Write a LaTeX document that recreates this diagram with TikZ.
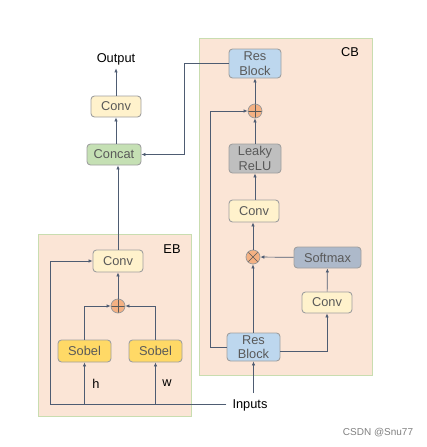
\documentclass[tikz,border=0pt]{standalone}
\usepackage{fontspec}
\setmainfont{Liberation Sans}
\usetikzlibrary{arrows.meta, positioning}
\definecolor{lineC}{HTML}{4E5C72}
\definecolor{bgC}{HTML}{FBE5D6}
\definecolor{bgEdge}{HTML}{C9DDB0}
\definecolor{convC}{HTML}{FFF2CC}
\definecolor{catC}{HTML}{C5E0B4}
\definecolor{resC}{HTML}{BDD7EE}
\definecolor{reluC}{HTML}{BFBFBF}
\definecolor{softC}{HTML}{ADB9CA}
\definecolor{sobC}{HTML}{FFD966}
\definecolor{opC}{HTML}{F4B183}
\definecolor{txtC}{HTML}{595959}

\begin{document}
\begin{tikzpicture}[x=1pt, y=-1pt,
      font=\fontsize{12.8}{14.5}\selectfont,
      blk/.style={draw=gray!75, line width=0.9pt, rounded corners=3.5pt,
         text=txtC, inner sep=0pt, align=center},
      convbox/.style={blk, fill=convC, minimum width=50pt, minimum height=21pt},
      resbox/.style={blk, fill=resC, minimum width=52pt, minimum height=29pt},
      opnode/.style={circle, draw=gray!80, line width=0.7pt, fill=opC,
         minimum size=14pt, inner sep=0pt},
      plusop/.style={opnode, path picture={
         \draw[gray!70!black, line width=0.6pt]
            (path picture bounding box.north) -- (path picture bounding box.south)
            (path picture bounding box.west) -- (path picture bounding box.east);}},
      timesop/.style={opnode, path picture={
         \draw[gray!70!black, line width=0.6pt]
            (path picture bounding box.north west) -- (path picture bounding box.south east)
            (path picture bounding box.south west) -- (path picture bounding box.north east);}},
      arr/.style={-{Latex[length=4pt, width=3.5pt]}, draw=lineC, line width=0.7pt},
      link/.style={draw=lineC, line width=0.7pt}]

      \useasboundingbox (0,0) rectangle (426,447);

      % Background blocks
      \draw[fill=bgC, draw=bgEdge, line width=0.8pt] (199,38) rectangle (372,375);
      \draw[fill=bgC, draw=bgEdge, line width=0.8pt] (38,234) rectangle (191,416);
      \node (cbLabel) at (350,52) {CB};
      \node (ebLabel) at (172,249) {EB};

      % Output branch
      \node (out) at (116,59) {Output};
      \node[convbox] (convOut) at (116,106.5) {Conv};
      \node[blk, fill=catC, minimum width=54pt, minimum height=21pt] (concat) at (114,154.5) {Concat};

      % CB block
      \node[resbox] (resTop) at (255,63.5) {Res\\Block};
      \node[plusop] (addTop) at (255,111) {};
      \node[blk, fill=reluC, minimum width=52pt, minimum height=29pt] (relu) at (255,158.5) {Leaky\\ReLU};
      \node[convbox, minimum height=22pt] (convMid) at (254,211) {Conv};
      \node[timesop] (mul) at (253,257) {};
      \node[blk, fill=softC, minimum width=67pt, minimum height=21pt] (soft) at (327.5,257.5) {Softmax};
      \node[convbox] (convSide) at (327,302.5) {Conv};
      \node[resbox, minimum width=53pt, minimum height=28pt] (resBot) at (253.5,347) {Res\\Block};

      % EB block
      \node[convbox, minimum height=22pt] (convEB) at (118,261) {Conv};
      \node[plusop] (addEB) at (118,306) {};
      \node[blk, fill=sobC, minimum width=53pt, minimum height=22pt] (sobH) at (84.5,351) {Sobel};
      \node[blk, fill=sobC, minimum width=53pt, minimum height=22pt] (sobW) at (155.5,351) {Sobel};
      \node (hLabel) at (96,384) {h};
      \node (wLabel) at (167,383) {w};

      % Inputs
      \node[inner sep=6pt] (inp) at (250,405) {Inputs};
      \coordinate (inLeft) at (50,404);

      % Connectors
      \draw[arr] (convOut) -- (out);
      \draw[arr] (concat.north -| convOut) -- (convOut.south);
      \draw[arr] (convEB.north) -- (convEB.north |- concat.south);
      \draw[arr] (resTop.west) -- ++(-44,0) |- (concat.east);
      \draw[arr] (addTop) -- (resTop);
      \draw[arr] (relu) -- (addTop);
      \draw[arr] (convMid.north -| relu) -- (relu);
      \draw[arr] (mul) -- (convMid.south -| mul);
      \draw[arr] (resBot.north -| mul) -- (mul);
      \draw[arr] (resBot.west) -- ++(-16,0) |- (addTop.west);
      \draw[arr] ([yshift=-4pt]resBot.east) -| (convSide.south);
      \draw[arr] (convSide) -- (soft);
      \draw[arr] (soft) -- (mul);
      \draw[arr] (resBot.south |- inp.north) -- (resBot.south);
      \draw[arr] (inp.west |- inLeft) -- (inLeft) |- (convEB.west);
      \draw[arr] (sobH.south |- inLeft) -- (sobH.south);
      \draw[arr] (sobW.south |- inLeft) -- (sobW.south);
      \draw[arr] (sobH.north) |- (addEB.west);
      \draw[arr] (sobW.north) |- (addEB.east);
      \draw[arr] (addEB) -- (convEB);

      % Watermark
      \node[text=gray, font=\fontsize{10}{12}\selectfont] (mark) at (378,433) {CSDN @Snu77};
   \end{tikzpicture}
\end{document}
